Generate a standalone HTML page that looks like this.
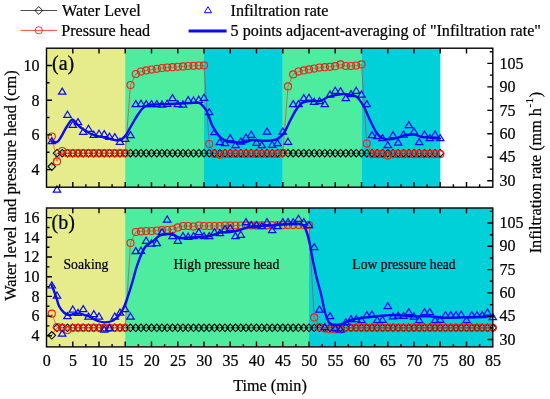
<!DOCTYPE html>
<html lang="en"><head><meta charset="utf-8"><title>Infiltration chart</title>
<style>html,body{margin:0;padding:0;background:#fff}svg{display:block}text{stroke:#000;stroke-width:.22px}</style></head>
<body>
<svg width="550" height="399" viewBox="0 0 550 399" font-family="'Liberation Serif', serif" font-size="16" fill="#000">
<defs>
<path id="d" d="M0 -3.75L3.75 0L0 3.75L-3.75 0Z" fill="none" stroke="#000" stroke-width="1.1"/>
<circle id="c" r="3.55" fill="none" stroke="#F02018" stroke-width="1.1"/>
<path id="t" d="M0 -3.4L3.7 2.7L-3.7 2.7Z" fill="none" stroke="#0A0AF2" stroke-width="1.2" stroke-linejoin="miter"/>
</defs>
<rect width="550" height="399" fill="#fff"/>
<rect x="46.5" y="48.2" width="78.8" height="139" fill="#E6EB8C"/>
<rect x="125.2" y="48.2" width="78.8" height="139" fill="#4DEC9E"/>
<rect x="204" y="48.2" width="78.8" height="139" fill="#00D1D9"/>
<rect x="282.8" y="48.2" width="78.8" height="139" fill="#4DEC9E"/>
<rect x="361.5" y="48.2" width="78.8" height="139" fill="#00D1D9"/>
<rect x="46.5" y="208" width="78.8" height="138.9" fill="#E6EB8C"/>
<rect x="125.2" y="208" width="183.8" height="138.9" fill="#4DEC9E"/>
<rect x="309" y="208" width="183.8" height="138.9" fill="#00D1D9"/>
<polyline points="51.8,166.6 57,153.2 62.2,153.2 67.5,153.2 72.8,153.2 78,153.2 83.2,153.2 88.5,153.2 93.8,153.2 99,153.2 104.2,153.2 109.5,153.2 114.8,153.2 120,153.2 125.2,153.2 130.5,153.2 135.8,153.2 141,153.2 146.2,153.2 151.5,153.2 156.8,153.2 162,153.2 167.2,153.2 172.5,153.2 177.8,153.2 183,153.2 188.2,153.2 193.5,153.2 198.8,153.2 204,153.2 209.2,153.2 214.5,153.2 219.8,153.2 225,153.2 230.2,153.2 235.5,153.2 240.8,153.2 246,153.2 251.2,153.2 256.5,153.2 261.8,153.2 267,153.2 272.2,153.2 277.5,153.2 282.8,153.2 288,153.2 293.2,153.2 298.5,153.2 303.8,153.2 309,153.2 314.2,153.2 319.5,153.2 324.8,153.2 330,153.2 335.2,153.2 340.5,153.2 345.8,153.2 351,153.2 356.2,153.2 361.5,153.2 366.8,153.2 372,153.2 377.2,153.2 382.5,153.2 387.8,153.2 393,153.2 398.2,153.2 403.5,153.2 408.8,153.2 414,153.2 419.2,153.2 424.5,153.2 429.8,153.2 435,153.2 440.2,153.2" fill="none" stroke="#222" stroke-width="0.45"/>
<g><use href="#d" x="51.8" y="166.6"/><use href="#d" x="57" y="153.2"/><use href="#d" x="62.2" y="153.2"/><use href="#d" x="67.5" y="153.2"/><use href="#d" x="72.8" y="153.2"/><use href="#d" x="78" y="153.2"/><use href="#d" x="83.2" y="153.2"/><use href="#d" x="88.5" y="153.2"/><use href="#d" x="93.8" y="153.2"/><use href="#d" x="99" y="153.2"/><use href="#d" x="104.2" y="153.2"/><use href="#d" x="109.5" y="153.2"/><use href="#d" x="114.8" y="153.2"/><use href="#d" x="120" y="153.2"/><use href="#d" x="125.2" y="153.2"/><use href="#d" x="130.5" y="153.2"/><use href="#d" x="135.8" y="153.2"/><use href="#d" x="141" y="153.2"/><use href="#d" x="146.2" y="153.2"/><use href="#d" x="151.5" y="153.2"/><use href="#d" x="156.8" y="153.2"/><use href="#d" x="162" y="153.2"/><use href="#d" x="167.2" y="153.2"/><use href="#d" x="172.5" y="153.2"/><use href="#d" x="177.8" y="153.2"/><use href="#d" x="183" y="153.2"/><use href="#d" x="188.2" y="153.2"/><use href="#d" x="193.5" y="153.2"/><use href="#d" x="198.8" y="153.2"/><use href="#d" x="204" y="153.2"/><use href="#d" x="209.2" y="153.2"/><use href="#d" x="214.5" y="153.2"/><use href="#d" x="219.8" y="153.2"/><use href="#d" x="225" y="153.2"/><use href="#d" x="230.2" y="153.2"/><use href="#d" x="235.5" y="153.2"/><use href="#d" x="240.8" y="153.2"/><use href="#d" x="246" y="153.2"/><use href="#d" x="251.2" y="153.2"/><use href="#d" x="256.5" y="153.2"/><use href="#d" x="261.8" y="153.2"/><use href="#d" x="267" y="153.2"/><use href="#d" x="272.2" y="153.2"/><use href="#d" x="277.5" y="153.2"/><use href="#d" x="282.8" y="153.2"/><use href="#d" x="288" y="153.2"/><use href="#d" x="293.2" y="153.2"/><use href="#d" x="298.5" y="153.2"/><use href="#d" x="303.8" y="153.2"/><use href="#d" x="309" y="153.2"/><use href="#d" x="314.2" y="153.2"/><use href="#d" x="319.5" y="153.2"/><use href="#d" x="324.8" y="153.2"/><use href="#d" x="330" y="153.2"/><use href="#d" x="335.2" y="153.2"/><use href="#d" x="340.5" y="153.2"/><use href="#d" x="345.8" y="153.2"/><use href="#d" x="351" y="153.2"/><use href="#d" x="356.2" y="153.2"/><use href="#d" x="361.5" y="153.2"/><use href="#d" x="366.8" y="153.2"/><use href="#d" x="372" y="153.2"/><use href="#d" x="377.2" y="153.2"/><use href="#d" x="382.5" y="153.2"/><use href="#d" x="387.8" y="153.2"/><use href="#d" x="393" y="153.2"/><use href="#d" x="398.2" y="153.2"/><use href="#d" x="403.5" y="153.2"/><use href="#d" x="408.8" y="153.2"/><use href="#d" x="414" y="153.2"/><use href="#d" x="419.2" y="153.2"/><use href="#d" x="424.5" y="153.2"/><use href="#d" x="429.8" y="153.2"/><use href="#d" x="435" y="153.2"/><use href="#d" x="440.2" y="153.2"/></g>
<polyline points="51.8,136.6 57,161.4 62.2,151 67.5,153.2 72.8,153.2 78,153.2 83.2,153.2 88.5,153.2 93.8,153.2 99,153.2 104.2,153.2 109.5,153.2 114.8,153.2 120,153.2 125.2,153.2 130.5,85 135.8,74 141,71.6 146.2,70.4 151.5,69.6 156.8,68.8 162,68 167.2,67.6 172.5,67.2 177.8,66.8 183,66.4 188.2,66 193.5,65.8 198.8,65.6 204,65.4 209.2,144 214.5,154 219.8,154.8 225,154 230.2,154 235.5,154 240.8,154 246,154 251.2,154 256.5,154 261.8,154 267,154 272.2,154 277.5,154 282.8,152.8 288,86.4 293.2,74.4 298.5,71.6 303.8,70.4 309,69.4 314.2,68.6 319.5,67.6 324.8,67.2 330,66.8 335.2,66.2 340.5,64.4 345.8,66 351,66 356.2,65.6 361.5,64.4 366.8,143.6 372,154.2 377.2,154.2 382.5,154.2 387.8,155.6 393,154.2 398.2,154.2 403.5,154.2 408.8,154.2 414,154.2 419.2,154.2 424.5,154.2 429.8,154.2 435,154.2 440.2,154.2" fill="none" stroke="#E8281C" stroke-width="0.7" stroke-opacity="0.85"/>
<g><use href="#c" x="51.8" y="136.6"/><use href="#c" x="57" y="161.4"/><use href="#c" x="62.2" y="151"/><use href="#c" x="67.5" y="153.2"/><use href="#c" x="72.8" y="153.2"/><use href="#c" x="78" y="153.2"/><use href="#c" x="83.2" y="153.2"/><use href="#c" x="88.5" y="153.2"/><use href="#c" x="93.8" y="153.2"/><use href="#c" x="99" y="153.2"/><use href="#c" x="104.2" y="153.2"/><use href="#c" x="109.5" y="153.2"/><use href="#c" x="114.8" y="153.2"/><use href="#c" x="120" y="153.2"/><use href="#c" x="125.2" y="153.2"/><use href="#c" x="130.5" y="85"/><use href="#c" x="135.8" y="74"/><use href="#c" x="141" y="71.6"/><use href="#c" x="146.2" y="70.4"/><use href="#c" x="151.5" y="69.6"/><use href="#c" x="156.8" y="68.8"/><use href="#c" x="162" y="68"/><use href="#c" x="167.2" y="67.6"/><use href="#c" x="172.5" y="67.2"/><use href="#c" x="177.8" y="66.8"/><use href="#c" x="183" y="66.4"/><use href="#c" x="188.2" y="66"/><use href="#c" x="193.5" y="65.8"/><use href="#c" x="198.8" y="65.6"/><use href="#c" x="204" y="65.4"/><use href="#c" x="209.2" y="144"/><use href="#c" x="214.5" y="154"/><use href="#c" x="219.8" y="154.8"/><use href="#c" x="225" y="154"/><use href="#c" x="230.2" y="154"/><use href="#c" x="235.5" y="154"/><use href="#c" x="240.8" y="154"/><use href="#c" x="246" y="154"/><use href="#c" x="251.2" y="154"/><use href="#c" x="256.5" y="154"/><use href="#c" x="261.8" y="154"/><use href="#c" x="267" y="154"/><use href="#c" x="272.2" y="154"/><use href="#c" x="277.5" y="154"/><use href="#c" x="282.8" y="152.8"/><use href="#c" x="288" y="86.4"/><use href="#c" x="293.2" y="74.4"/><use href="#c" x="298.5" y="71.6"/><use href="#c" x="303.8" y="70.4"/><use href="#c" x="309" y="69.4"/><use href="#c" x="314.2" y="68.6"/><use href="#c" x="319.5" y="67.6"/><use href="#c" x="324.8" y="67.2"/><use href="#c" x="330" y="66.8"/><use href="#c" x="335.2" y="66.2"/><use href="#c" x="340.5" y="64.4"/><use href="#c" x="345.8" y="66"/><use href="#c" x="351" y="66"/><use href="#c" x="356.2" y="65.6"/><use href="#c" x="361.5" y="64.4"/><use href="#c" x="366.8" y="143.6"/><use href="#c" x="372" y="154.2"/><use href="#c" x="377.2" y="154.2"/><use href="#c" x="382.5" y="154.2"/><use href="#c" x="387.8" y="155.6"/><use href="#c" x="393" y="154.2"/><use href="#c" x="398.2" y="154.2"/><use href="#c" x="403.5" y="154.2"/><use href="#c" x="408.8" y="154.2"/><use href="#c" x="414" y="154.2"/><use href="#c" x="419.2" y="154.2"/><use href="#c" x="424.5" y="154.2"/><use href="#c" x="429.8" y="154.2"/><use href="#c" x="435" y="154.2"/><use href="#c" x="440.2" y="154.2"/></g>
<g><use href="#t" x="51.8" y="141"/><use href="#t" x="57" y="189.4"/><use href="#t" x="62.2" y="91.5"/><use href="#t" x="67.5" y="114.6"/><use href="#t" x="72.8" y="124.6"/><use href="#t" x="78" y="122"/><use href="#t" x="83.2" y="131.6"/><use href="#t" x="88.5" y="128.6"/><use href="#t" x="93.8" y="134.6"/><use href="#t" x="99" y="133.6"/><use href="#t" x="104.2" y="134"/><use href="#t" x="109.5" y="136.6"/><use href="#t" x="114.8" y="137"/><use href="#t" x="120" y="141.6"/><use href="#t" x="125.2" y="138.6"/><use href="#t" x="130.5" y="135"/><use href="#t" x="135.8" y="104"/><use href="#t" x="141" y="103.6"/><use href="#t" x="146.2" y="104"/><use href="#t" x="151.5" y="104"/><use href="#t" x="156.8" y="104"/><use href="#t" x="162" y="104.4"/><use href="#t" x="167.2" y="103.6"/><use href="#t" x="172.5" y="98"/><use href="#t" x="177.8" y="104"/><use href="#t" x="183" y="104.4"/><use href="#t" x="188.2" y="100"/><use href="#t" x="193.5" y="100.4"/><use href="#t" x="198.8" y="99.6"/><use href="#t" x="204" y="97.6"/><use href="#t" x="209.2" y="112"/><use href="#t" x="214.5" y="132"/><use href="#t" x="219.8" y="142"/><use href="#t" x="225" y="143"/><use href="#t" x="230.2" y="138"/><use href="#t" x="235.5" y="145"/><use href="#t" x="240.8" y="141.4"/><use href="#t" x="246" y="137.4"/><use href="#t" x="251.2" y="134.6"/><use href="#t" x="256.5" y="142.6"/><use href="#t" x="261.8" y="145"/><use href="#t" x="267" y="131.4"/><use href="#t" x="272.2" y="144.6"/><use href="#t" x="277.5" y="143"/><use href="#t" x="282.8" y="131.4"/><use href="#t" x="288" y="141.6"/><use href="#t" x="293.2" y="104"/><use href="#t" x="298.5" y="104"/><use href="#t" x="303.8" y="98"/><use href="#t" x="309" y="97.6"/><use href="#t" x="314.2" y="101.6"/><use href="#t" x="319.5" y="101"/><use href="#t" x="324.8" y="104"/><use href="#t" x="330" y="94.4"/><use href="#t" x="335.2" y="90.6"/><use href="#t" x="340.5" y="91"/><use href="#t" x="345.8" y="98"/><use href="#t" x="351" y="94"/><use href="#t" x="356.2" y="90.6"/><use href="#t" x="361.5" y="94.4"/><use href="#t" x="366.8" y="104"/><use href="#t" x="372" y="135"/><use href="#t" x="377.2" y="136"/><use href="#t" x="382.5" y="138"/><use href="#t" x="387.8" y="145"/><use href="#t" x="393" y="135"/><use href="#t" x="398.2" y="142.4"/><use href="#t" x="403.5" y="134.4"/><use href="#t" x="408.8" y="125"/><use href="#t" x="414" y="131.4"/><use href="#t" x="419.2" y="142"/><use href="#t" x="424.5" y="134.4"/><use href="#t" x="429.8" y="138"/><use href="#t" x="435" y="134.4"/><use href="#t" x="440.2" y="138"/></g>
<path d="M51.5 141.5C52.4 141.6 55.5 142.7 57 142C58.5 141.3 59.6 139.2 61 137C62.4 134.8 64.2 130.8 66 128C67.8 125.2 70.4 120.3 72 119.5C73.6 118.7 74.7 121.8 76 123C77.3 124.2 78.6 125.8 80 127C81.4 128.2 83.4 129.5 85 130.5C86.6 131.5 88.1 132.6 90 133.5C91.9 134.4 94.8 135.4 97 136C99.2 136.6 101.8 137 104 137.5C106.2 138 108.8 138.5 111 139C113.2 139.5 116.2 140.5 118 140.5C119.8 140.5 120.7 139.9 122 139C123.3 138.1 124.7 136.8 126 135C127.3 133.2 128.7 130.2 130 128C131.3 125.8 132.7 123.2 134 121C135.3 118.8 136.7 116.4 138 114.5C139.3 112.6 140.7 110.4 142 109C143.3 107.6 144.7 106.7 146 106C147.3 105.3 147.8 105.1 150 104.8C152.2 104.5 156.8 104.4 160 104.3C163.2 104.2 166.8 104.1 170 104C173.2 103.9 176.8 103.7 180 103.5C183.2 103.3 187.1 103.1 190 103C192.9 102.9 196.1 102.3 198 102.6C199.9 102.9 200.7 103.8 202 105C203.3 106.2 204.9 108.1 206 110C207.1 111.9 208 114.6 209 117C210 119.4 210.9 122.6 212 125C213.1 127.4 214.7 130.1 216 132C217.3 133.9 218.4 135.6 220 137C221.6 138.4 223.4 140.1 226 141C228.6 141.9 232.8 142.2 236 142.4C239.2 142.6 243.4 142.4 246 142C248.6 141.6 249.8 140.2 252 140C254.2 139.8 257.1 140.5 260 140.6C262.9 140.7 267.1 140.9 270 140.6C272.9 140.3 275.8 139.8 278 138.6C280.2 137.4 282.1 135.8 284 133C285.9 130.2 288.1 124.7 290 121C291.9 117.3 294.1 112.9 296 110C297.9 107.1 299.8 104.4 302 103C304.2 101.6 307.1 101.3 310 101C312.9 100.7 317.1 101.6 320 101C322.9 100.4 325.4 98 328 97C330.6 96 333.4 95.5 336 95C338.6 94.5 341.1 93.9 344 94C346.9 94.1 351.8 95 354 95.6C356.2 96.2 356.4 96.2 358 98C359.6 99.8 362.1 103.5 364 107C365.9 110.5 368.1 116 370 120C371.9 124 374.1 129.1 376 132C377.9 134.9 379.8 136.8 382 138C384.2 139.2 387.4 139.5 390 139.4C392.6 139.3 395.4 138.3 398 137.6C400.6 136.9 403.4 135.5 406 135C408.6 134.5 411.4 134.3 414 134.6C416.6 134.9 419.4 136.5 422 137C424.6 137.5 427.1 137.3 430 137.6C432.9 137.9 438.4 138.4 440 138.6" fill="none" stroke="#0A0AF2" stroke-width="2.4" stroke-linejoin="round" stroke-linecap="round"/>
<polyline points="51.8,335.3 57,327.8 62.2,327.8 67.5,327.8 72.8,327.8 78,327.8 83.2,327.8 88.5,327.8 93.8,327.8 99,327.8 104.2,327.8 109.5,327.8 114.8,327.8 120,327.8 125.2,327.8 130.5,327.8 135.8,327.8 141,327.8 146.2,327.8 151.5,327.8 156.8,327.8 162,327.8 167.2,327.8 172.5,327.8 177.8,327.8 183,327.8 188.2,327.8 193.5,327.8 198.8,327.8 204,327.8 209.2,327.8 214.5,327.8 219.8,327.8 225,327.8 230.2,327.8 235.5,327.8 240.8,327.8 246,327.8 251.2,327.8 256.5,327.8 261.8,327.8 267,327.8 272.2,327.8 277.5,327.8 282.8,327.8 288,327.8 293.2,327.8 298.5,327.8 303.8,327.8 309,327.8 314.2,327.8 319.5,327.8 324.8,327.8 330,327.8 335.2,327.8 340.5,327.8 345.8,327.8 351,327.8 356.2,327.8 361.5,327.8 366.8,327.8 372,327.8 377.2,327.8 382.5,327.8 387.8,327.8 393,327.8 398.2,327.8 403.5,327.8 408.8,327.8 414,327.8 419.2,327.8 424.5,327.8 429.8,327.8 435,327.8 440.2,327.8 445.5,327.8 450.8,327.8 456,327.8 461.2,327.8 466.5,327.8 471.8,327.8 477,327.8 482.2,327.8 487.5,327.8 492.8,327.8" fill="none" stroke="#222" stroke-width="0.45"/>
<g><use href="#d" x="51.8" y="335.3"/><use href="#d" x="57" y="327.8"/><use href="#d" x="62.2" y="327.8"/><use href="#d" x="67.5" y="327.8"/><use href="#d" x="72.8" y="327.8"/><use href="#d" x="78" y="327.8"/><use href="#d" x="83.2" y="327.8"/><use href="#d" x="88.5" y="327.8"/><use href="#d" x="93.8" y="327.8"/><use href="#d" x="99" y="327.8"/><use href="#d" x="104.2" y="327.8"/><use href="#d" x="109.5" y="327.8"/><use href="#d" x="114.8" y="327.8"/><use href="#d" x="120" y="327.8"/><use href="#d" x="125.2" y="327.8"/><use href="#d" x="130.5" y="327.8"/><use href="#d" x="135.8" y="327.8"/><use href="#d" x="141" y="327.8"/><use href="#d" x="146.2" y="327.8"/><use href="#d" x="151.5" y="327.8"/><use href="#d" x="156.8" y="327.8"/><use href="#d" x="162" y="327.8"/><use href="#d" x="167.2" y="327.8"/><use href="#d" x="172.5" y="327.8"/><use href="#d" x="177.8" y="327.8"/><use href="#d" x="183" y="327.8"/><use href="#d" x="188.2" y="327.8"/><use href="#d" x="193.5" y="327.8"/><use href="#d" x="198.8" y="327.8"/><use href="#d" x="204" y="327.8"/><use href="#d" x="209.2" y="327.8"/><use href="#d" x="214.5" y="327.8"/><use href="#d" x="219.8" y="327.8"/><use href="#d" x="225" y="327.8"/><use href="#d" x="230.2" y="327.8"/><use href="#d" x="235.5" y="327.8"/><use href="#d" x="240.8" y="327.8"/><use href="#d" x="246" y="327.8"/><use href="#d" x="251.2" y="327.8"/><use href="#d" x="256.5" y="327.8"/><use href="#d" x="261.8" y="327.8"/><use href="#d" x="267" y="327.8"/><use href="#d" x="272.2" y="327.8"/><use href="#d" x="277.5" y="327.8"/><use href="#d" x="282.8" y="327.8"/><use href="#d" x="288" y="327.8"/><use href="#d" x="293.2" y="327.8"/><use href="#d" x="298.5" y="327.8"/><use href="#d" x="303.8" y="327.8"/><use href="#d" x="309" y="327.8"/><use href="#d" x="314.2" y="327.8"/><use href="#d" x="319.5" y="327.8"/><use href="#d" x="324.8" y="327.8"/><use href="#d" x="330" y="327.8"/><use href="#d" x="335.2" y="327.8"/><use href="#d" x="340.5" y="327.8"/><use href="#d" x="345.8" y="327.8"/><use href="#d" x="351" y="327.8"/><use href="#d" x="356.2" y="327.8"/><use href="#d" x="361.5" y="327.8"/><use href="#d" x="366.8" y="327.8"/><use href="#d" x="372" y="327.8"/><use href="#d" x="377.2" y="327.8"/><use href="#d" x="382.5" y="327.8"/><use href="#d" x="387.8" y="327.8"/><use href="#d" x="393" y="327.8"/><use href="#d" x="398.2" y="327.8"/><use href="#d" x="403.5" y="327.8"/><use href="#d" x="408.8" y="327.8"/><use href="#d" x="414" y="327.8"/><use href="#d" x="419.2" y="327.8"/><use href="#d" x="424.5" y="327.8"/><use href="#d" x="429.8" y="327.8"/><use href="#d" x="435" y="327.8"/><use href="#d" x="440.2" y="327.8"/><use href="#d" x="445.5" y="327.8"/><use href="#d" x="450.8" y="327.8"/><use href="#d" x="456" y="327.8"/><use href="#d" x="461.2" y="327.8"/><use href="#d" x="466.5" y="327.8"/><use href="#d" x="471.8" y="327.8"/><use href="#d" x="477" y="327.8"/><use href="#d" x="482.2" y="327.8"/><use href="#d" x="487.5" y="327.8"/><use href="#d" x="492.8" y="327.8"/></g>
<polyline points="51.8,313.7 57,327 62.2,327.7 67.5,330 72.8,327.8 78,327.8 83.2,327.8 88.5,327.8 93.8,327.8 99,327.8 104.2,327.8 109.5,327.8 114.8,327.8 120,327.8 125.2,327.8 130.5,243 135.8,232 141,231.4 146.2,231 151.5,231 156.8,230.6 162,230 167.2,230 172.5,229.6 177.8,227.4 183,226 188.2,226 193.5,226.6 198.8,225.6 204,226 209.2,226 214.5,226 219.8,226 225,225.6 230.2,225.6 235.5,225.5 240.8,225.5 246,225.4 251.2,225.4 256.5,225.4 261.8,225.3 267,225.3 272.2,225.2 277.5,225.2 282.8,225.2 288,225.1 293.2,225.1 298.5,225 303.8,225 309,225 314.2,317.4 319.5,327 324.8,328.4 330,329.5 335.2,329.5 340.5,329.5 345.8,327.8 351,327.8 356.2,327.8 361.5,327.8 366.8,327.8 372,327.8 377.2,327.8 382.5,327.8 387.8,327.8 393,327.8 398.2,327.8 403.5,327.8 408.8,327.8 414,327.8 419.2,327.8 424.5,327.8 429.8,327.8 435,327.8 440.2,327.8 445.5,327.8 450.8,327.8 456,327.8 461.2,327.8 466.5,327.8 471.8,327.8 477,327.8 482.2,327.8 487.5,327.8 492.8,327.8" fill="none" stroke="#E8281C" stroke-width="0.7" stroke-opacity="0.85"/>
<g><use href="#c" x="51.8" y="313.7"/><use href="#c" x="57" y="327"/><use href="#c" x="62.2" y="327.7"/><use href="#c" x="67.5" y="330"/><use href="#c" x="72.8" y="327.8"/><use href="#c" x="78" y="327.8"/><use href="#c" x="83.2" y="327.8"/><use href="#c" x="88.5" y="327.8"/><use href="#c" x="93.8" y="327.8"/><use href="#c" x="99" y="327.8"/><use href="#c" x="104.2" y="327.8"/><use href="#c" x="109.5" y="327.8"/><use href="#c" x="114.8" y="327.8"/><use href="#c" x="120" y="327.8"/><use href="#c" x="125.2" y="327.8"/><use href="#c" x="130.5" y="243"/><use href="#c" x="135.8" y="232"/><use href="#c" x="141" y="231.4"/><use href="#c" x="146.2" y="231"/><use href="#c" x="151.5" y="231"/><use href="#c" x="156.8" y="230.6"/><use href="#c" x="162" y="230"/><use href="#c" x="167.2" y="230"/><use href="#c" x="172.5" y="229.6"/><use href="#c" x="177.8" y="227.4"/><use href="#c" x="183" y="226"/><use href="#c" x="188.2" y="226"/><use href="#c" x="193.5" y="226.6"/><use href="#c" x="198.8" y="225.6"/><use href="#c" x="204" y="226"/><use href="#c" x="209.2" y="226"/><use href="#c" x="214.5" y="226"/><use href="#c" x="219.8" y="226"/><use href="#c" x="225" y="225.6"/><use href="#c" x="230.2" y="225.6"/><use href="#c" x="235.5" y="225.5"/><use href="#c" x="240.8" y="225.5"/><use href="#c" x="246" y="225.4"/><use href="#c" x="251.2" y="225.4"/><use href="#c" x="256.5" y="225.4"/><use href="#c" x="261.8" y="225.3"/><use href="#c" x="267" y="225.3"/><use href="#c" x="272.2" y="225.2"/><use href="#c" x="277.5" y="225.2"/><use href="#c" x="282.8" y="225.2"/><use href="#c" x="288" y="225.1"/><use href="#c" x="293.2" y="225.1"/><use href="#c" x="298.5" y="225"/><use href="#c" x="303.8" y="225"/><use href="#c" x="309" y="225"/><use href="#c" x="314.2" y="317.4"/><use href="#c" x="319.5" y="327"/><use href="#c" x="324.8" y="328.4"/><use href="#c" x="330" y="329.5"/><use href="#c" x="335.2" y="329.5"/><use href="#c" x="340.5" y="329.5"/><use href="#c" x="345.8" y="327.8"/><use href="#c" x="351" y="327.8"/><use href="#c" x="356.2" y="327.8"/><use href="#c" x="361.5" y="327.8"/><use href="#c" x="366.8" y="327.8"/><use href="#c" x="372" y="327.8"/><use href="#c" x="377.2" y="327.8"/><use href="#c" x="382.5" y="327.8"/><use href="#c" x="387.8" y="327.8"/><use href="#c" x="393" y="327.8"/><use href="#c" x="398.2" y="327.8"/><use href="#c" x="403.5" y="327.8"/><use href="#c" x="408.8" y="327.8"/><use href="#c" x="414" y="327.8"/><use href="#c" x="419.2" y="327.8"/><use href="#c" x="424.5" y="327.8"/><use href="#c" x="429.8" y="327.8"/><use href="#c" x="435" y="327.8"/><use href="#c" x="440.2" y="327.8"/><use href="#c" x="445.5" y="327.8"/><use href="#c" x="450.8" y="327.8"/><use href="#c" x="456" y="327.8"/><use href="#c" x="461.2" y="327.8"/><use href="#c" x="466.5" y="327.8"/><use href="#c" x="471.8" y="327.8"/><use href="#c" x="477" y="327.8"/><use href="#c" x="482.2" y="327.8"/><use href="#c" x="487.5" y="327.8"/><use href="#c" x="492.8" y="327.8"/></g>
<g><use href="#t" x="51.8" y="285.3"/><use href="#t" x="57" y="295.4"/><use href="#t" x="62.2" y="333.5"/><use href="#t" x="67.5" y="316"/><use href="#t" x="72.8" y="309.4"/><use href="#t" x="78" y="312.8"/><use href="#t" x="83.2" y="309"/><use href="#t" x="88.5" y="316.5"/><use href="#t" x="93.8" y="314"/><use href="#t" x="99" y="316.4"/><use href="#t" x="104.2" y="329.4"/><use href="#t" x="109.5" y="328"/><use href="#t" x="114.8" y="316.4"/><use href="#t" x="120" y="312.4"/><use href="#t" x="125.2" y="309"/><use href="#t" x="130.5" y="316.4"/><use href="#t" x="135.8" y="251"/><use href="#t" x="141" y="250.6"/><use href="#t" x="146.2" y="240.6"/><use href="#t" x="151.5" y="243.4"/><use href="#t" x="156.8" y="243"/><use href="#t" x="162" y="232"/><use href="#t" x="167.2" y="219.4"/><use href="#t" x="172.5" y="236"/><use href="#t" x="177.8" y="240.6"/><use href="#t" x="183" y="236"/><use href="#t" x="188.2" y="236.6"/><use href="#t" x="193.5" y="236"/><use href="#t" x="198.8" y="232"/><use href="#t" x="204" y="236"/><use href="#t" x="209.2" y="236"/><use href="#t" x="214.5" y="232"/><use href="#t" x="219.8" y="233"/><use href="#t" x="225" y="229"/><use href="#t" x="230.2" y="228"/><use href="#t" x="235.5" y="236"/><use href="#t" x="240.8" y="234.6"/><use href="#t" x="246" y="222"/><use href="#t" x="251.2" y="225"/><use href="#t" x="256.5" y="225"/><use href="#t" x="261.8" y="226"/><use href="#t" x="267" y="222"/><use href="#t" x="272.2" y="230"/><use href="#t" x="277.5" y="226"/><use href="#t" x="282.8" y="222"/><use href="#t" x="288" y="222"/><use href="#t" x="293.2" y="222"/><use href="#t" x="298.5" y="218.6"/><use href="#t" x="303.8" y="222"/><use href="#t" x="309" y="225"/><use href="#t" x="314.2" y="247"/><use href="#t" x="319.5" y="309.4"/><use href="#t" x="324.8" y="327"/><use href="#t" x="330" y="316"/><use href="#t" x="335.2" y="328"/><use href="#t" x="340.5" y="329.4"/><use href="#t" x="345.8" y="322"/><use href="#t" x="351" y="319"/><use href="#t" x="356.2" y="319"/><use href="#t" x="361.5" y="320"/><use href="#t" x="366.8" y="315"/><use href="#t" x="372" y="314.4"/><use href="#t" x="377.2" y="320"/><use href="#t" x="382.5" y="319.6"/><use href="#t" x="387.8" y="306"/><use href="#t" x="393" y="316.2"/><use href="#t" x="398.2" y="315.5"/><use href="#t" x="403.5" y="315.7"/><use href="#t" x="408.8" y="312"/><use href="#t" x="414" y="316.4"/><use href="#t" x="419.2" y="320"/><use href="#t" x="424.5" y="312"/><use href="#t" x="429.8" y="312"/><use href="#t" x="435" y="320"/><use href="#t" x="440.2" y="319.6"/><use href="#t" x="445.5" y="315"/><use href="#t" x="450.8" y="315"/><use href="#t" x="456" y="315"/><use href="#t" x="461.2" y="314.4"/><use href="#t" x="466.5" y="320"/><use href="#t" x="471.8" y="315"/><use href="#t" x="477" y="315"/><use href="#t" x="482.2" y="315"/><use href="#t" x="487.5" y="312.4"/><use href="#t" x="492.8" y="317"/></g>
<path d="M51.6 285C52 286 53.2 288.9 54 291C54.8 293.1 55.7 295.6 56.5 298C57.3 300.4 57.8 303.7 59 306C60.2 308.3 62.3 311.1 63.9 312.5C65.5 313.9 67.4 314.8 69 315C70.6 315.2 72.2 314.2 74 314C75.8 313.8 78.1 313.4 80 313.6C81.9 313.8 84.4 315 86 315.5C87.6 316 88.1 316.1 90 317C91.9 317.9 95.6 320.1 98 321C100.4 321.9 102.8 322.4 105 322.4C107.2 322.4 110.1 321.8 112 321C113.9 320.2 115.7 318.6 117 317.5C118.3 316.4 119 315.4 120 314C121 312.6 122 310.9 123 309C124 307.1 124.9 305 126 302C127.1 299 128.9 293.5 130 290C131.1 286.5 132 283.4 133 280C134 276.6 134.7 273 136 269C137.3 265 139.4 258.7 141 255C142.6 251.3 144.1 248.2 146 246C147.9 243.8 150.8 242.7 153 241C155.2 239.3 157.6 236.6 160 235.5C162.4 234.4 165.8 234.1 168 234C170.2 233.9 172.1 234.4 174 235C175.9 235.6 177.4 237.6 180 238C182.6 238.4 186.8 237.6 190 237.4C193.2 237.2 196.8 237.2 200 237C203.2 236.8 206.8 236.7 210 236C213.2 235.3 216.8 233.2 220 232.6C223.2 232 226.8 232.4 230 232C233.2 231.6 236.8 230.9 240 230C243.2 229.1 246.8 227.2 250 226.6C253.2 226 256.8 226.2 260 226C263.2 225.8 266.8 225.8 270 225.6C273.2 225.4 276.8 224.9 280 224.6C283.2 224.3 287.1 223.8 290 223.6C292.9 223.4 295.9 223.4 298 223.6C300.1 223.8 301.7 224 303 225C304.3 226 305 227.3 306 230C307 232.7 308.3 237 309.4 242C310.5 247 311.8 255.1 313 261C314.2 266.9 315.7 273.7 317 279C318.3 284.3 319.7 288.7 321 294C322.3 299.3 323.7 307.5 325 312C326.3 316.5 327.4 320.3 329 322.4C330.6 324.5 332.8 324.8 335 325C337.2 325.2 340.4 324.4 343 323.6C345.6 322.8 348.1 320.9 351 320C353.9 319.1 357.2 318.6 361 318C364.8 317.4 371.2 316.8 375 316.4C378.8 316 381.8 315.7 385 315.5C388.2 315.3 392 315 395 315C398 315 401.6 315.4 404 315.6C406.4 315.8 405.8 316.1 410 316.2C414.2 316.3 425.2 316.2 430 316.4C434.8 316.6 436.8 317.3 440 317.5C443.2 317.7 445.2 317.8 450 317.8C454.8 317.8 463.6 317.4 470 317.2C476.4 317 486.2 316.5 490 316.4C493.8 316.3 493 316.4 493.6 316.4" fill="none" stroke="#0A0AF2" stroke-width="2.4" stroke-linejoin="round" stroke-linecap="round"/>
<rect x="46.5" y="48.2" width="446.3" height="139" fill="none" stroke="#000" stroke-width="1.4"/>
<rect x="46.5" y="208" width="446.3" height="138.9" fill="none" stroke="#000" stroke-width="1.4"/>
<path d="M59.6 187.2L59.6 184.2M72.8 187.2L72.8 181.9M72.8 48.2L72.8 53.5M85.9 187.2L85.9 184.2M99 187.2L99 181.9M99 48.2L99 53.5M112.1 187.2L112.1 184.2M125.2 187.2L125.2 181.9M125.2 48.2L125.2 53.5M138.4 187.2L138.4 184.2M151.5 187.2L151.5 181.9M151.5 48.2L151.5 53.5M164.6 187.2L164.6 184.2M177.8 187.2L177.8 181.9M177.8 48.2L177.8 53.5M190.9 187.2L190.9 184.2M204 187.2L204 181.9M204 48.2L204 53.5M217.1 187.2L217.1 184.2M230.2 187.2L230.2 181.9M230.2 48.2L230.2 53.5M243.4 187.2L243.4 184.2M256.5 187.2L256.5 181.9M256.5 48.2L256.5 53.5M269.6 187.2L269.6 184.2M282.8 187.2L282.8 181.9M282.8 48.2L282.8 53.5M295.9 187.2L295.9 184.2M309 187.2L309 181.9M309 48.2L309 53.5M322.1 187.2L322.1 184.2M335.2 187.2L335.2 181.9M335.2 48.2L335.2 53.5M348.4 187.2L348.4 184.2M361.5 187.2L361.5 181.9M361.5 48.2L361.5 53.5M374.6 187.2L374.6 184.2M387.8 187.2L387.8 181.9M387.8 48.2L387.8 53.5M400.9 187.2L400.9 184.2M414 187.2L414 181.9M414 48.2L414 53.5M427.1 187.2L427.1 184.2M440.2 187.2L440.2 181.9M440.2 48.2L440.2 53.5M453.4 187.2L453.4 184.2M466.5 187.2L466.5 181.9M466.5 48.2L466.5 53.5M479.6 187.2L479.6 184.2M59.6 346.9L59.6 343.9M72.8 346.9L72.8 341.6M72.8 208L72.8 213.3M85.9 346.9L85.9 343.9M99 346.9L99 341.6M99 208L99 213.3M112.1 346.9L112.1 343.9M125.2 346.9L125.2 341.6M125.2 208L125.2 213.3M138.4 346.9L138.4 343.9M151.5 346.9L151.5 341.6M151.5 208L151.5 213.3M164.6 346.9L164.6 343.9M177.8 346.9L177.8 341.6M177.8 208L177.8 213.3M190.9 346.9L190.9 343.9M204 346.9L204 341.6M204 208L204 213.3M217.1 346.9L217.1 343.9M230.2 346.9L230.2 341.6M230.2 208L230.2 213.3M243.4 346.9L243.4 343.9M256.5 346.9L256.5 341.6M256.5 208L256.5 213.3M269.6 346.9L269.6 343.9M282.8 346.9L282.8 341.6M282.8 208L282.8 213.3M295.9 346.9L295.9 343.9M309 346.9L309 341.6M309 208L309 213.3M322.1 346.9L322.1 343.9M335.2 346.9L335.2 341.6M335.2 208L335.2 213.3M348.4 346.9L348.4 343.9M361.5 346.9L361.5 341.6M361.5 208L361.5 213.3M374.6 346.9L374.6 343.9M387.8 346.9L387.8 341.6M387.8 208L387.8 213.3M400.9 346.9L400.9 343.9M414 346.9L414 341.6M414 208L414 213.3M427.1 346.9L427.1 343.9M440.2 346.9L440.2 341.6M440.2 208L440.2 213.3M453.4 346.9L453.4 343.9M466.5 346.9L466.5 341.6M466.5 208L466.5 213.3M479.6 346.9L479.6 343.9M46.5 169.6L52 169.6M46.5 152.2L49.5 152.2M46.5 134.9L52 134.9M46.5 117.5L49.5 117.5M46.5 100.2L52 100.2M46.5 82.8L49.5 82.8M46.5 65.5L52 65.5M46.5 335.8L52 335.8M46.5 325.9L49.5 325.9M46.5 316.1L52 316.1M46.5 306.2L49.5 306.2M46.5 296.4L52 296.4M46.5 286.6L49.5 286.6M46.5 276.7L52 276.7M46.5 266.9L49.5 266.9M46.5 257L52 257M46.5 247.2L49.5 247.2M46.5 237.3L52 237.3M46.5 227.5L49.5 227.5M46.5 217.6L52 217.6M492.8 180.8L487.3 180.8M492.8 339.5L487.3 339.5M492.8 169.1L489.8 169.1M492.8 327.9L489.8 327.9M492.8 157.3L487.3 157.3M492.8 316.2L487.3 316.2M492.8 145.6L489.8 145.6M492.8 304.6L489.8 304.6M492.8 133.8L487.3 133.8M492.8 292.9L487.3 292.9M492.8 122.1L489.8 122.1M492.8 281.3L489.8 281.3M492.8 110.4L487.3 110.4M492.8 269.6L487.3 269.6M492.8 98.6L489.8 98.6M492.8 258L489.8 258M492.8 86.9L487.3 86.9M492.8 246.3L487.3 246.3M492.8 75.1L489.8 75.1M492.8 234.7L489.8 234.7M492.8 63.4L487.3 63.4M492.8 223L487.3 223M492.8 51.7L489.8 51.7M492.8 211.4L489.8 211.4" stroke="#000" stroke-width="1.4" fill="none"/>
<g text-anchor="end">
<text x="39.6" y="174.9">4</text>
<text x="39.6" y="140.2">6</text>
<text x="39.6" y="105.5">8</text>
<text x="39.6" y="70.8">10</text>
<text x="39.6" y="341.1">4</text>
<text x="39.6" y="321.4">6</text>
<text x="39.6" y="301.7">8</text>
<text x="39.6" y="282">10</text>
<text x="39.6" y="262.3">12</text>
<text x="39.6" y="242.6">14</text>
<text x="39.6" y="222.9">16</text>
</g>
<g>
<text x="499.6" y="185.9">30</text>
<text x="499.6" y="344.6">30</text>
<text x="499.6" y="162.4">45</text>
<text x="499.6" y="321.3">45</text>
<text x="499.6" y="138.9">60</text>
<text x="499.6" y="298">60</text>
<text x="499.6" y="115.5">75</text>
<text x="499.6" y="274.7">75</text>
<text x="499.6" y="92">90</text>
<text x="499.6" y="251.4">90</text>
<text x="499.6" y="68.5">105</text>
<text x="499.6" y="228.1">105</text>
</g>
<g text-anchor="middle">
<text x="46.7" y="365.7">0</text>
<text x="73" y="365.7">5</text>
<text x="99.2" y="365.7">10</text>
<text x="125.5" y="365.7">15</text>
<text x="151.7" y="365.7">20</text>
<text x="177.9" y="365.7">25</text>
<text x="204.2" y="365.7">30</text>
<text x="230.4" y="365.7">35</text>
<text x="256.7" y="365.7">40</text>
<text x="282.9" y="365.7">45</text>
<text x="309.2" y="365.7">50</text>
<text x="335.4" y="365.7">55</text>
<text x="361.7" y="365.7">60</text>
<text x="387.9" y="365.7">65</text>
<text x="414.2" y="365.7">70</text>
<text x="440.4" y="365.7">75</text>
<text x="466.7" y="365.7">80</text>
<text x="492.9" y="365.7">85</text>
<text x="270" y="391.3" font-size="16.2">Time (min)</text>
</g>
<text transform="translate(15.8 300.8) rotate(-90)" font-size="16.35">Water level and pressure head (cm)</text>
<text transform="translate(541 253.3) rotate(-90)" font-size="16.2">Infiltration rate (mm h<tspan font-size="10.5" dy="-8.3" dx="0.6" letter-spacing="0.8">-1</tspan><tspan dy="8.3">)</tspan></text>
<text x="52" y="70" font-size="20">(a)</text>
<text x="51.5" y="229.2" font-size="20">(b)</text>
<g font-size="13.7">
<text x="63.5" y="268.6">Soaking</text>
<text x="173.6" y="268.6">High pressure head</text>
<text x="352.3" y="268.6">Low pressure head</text>
</g>
<path d="M20.5 10.5H57.1" stroke="#222" stroke-width="0.8"/><path d="M38.8 6.6L42.7 10.5L38.8 14.4L34.9 10.5Z" fill="none" stroke="#000" stroke-width="0.9"/>
<path d="M20.5 30.4H57.1" stroke="#F02018" stroke-width="0.8"/><circle cx="38.8" cy="30.3" r="3.6" fill="none" stroke="#F02018" stroke-width="0.85"/>
<path d="M208 6.7L211.6 12.7L204.4 12.7Z" fill="none" stroke="#0A0AF2" stroke-width="1"/>
<path d="M188.6 31H226.6" stroke="#0A0AF2" stroke-width="2.8"/>
<g font-size="16.1">
<text x="62.1" y="15.7">Water Level</text>
<text x="61.2" y="35.6">Pressure head</text>
<text x="230.6" y="15.7">Infiltration rate</text>
<text x="230.6" y="35.6">5 points adjacent-averaging of "Infiltration rate"</text>
</g>
</svg>
</body></html>
